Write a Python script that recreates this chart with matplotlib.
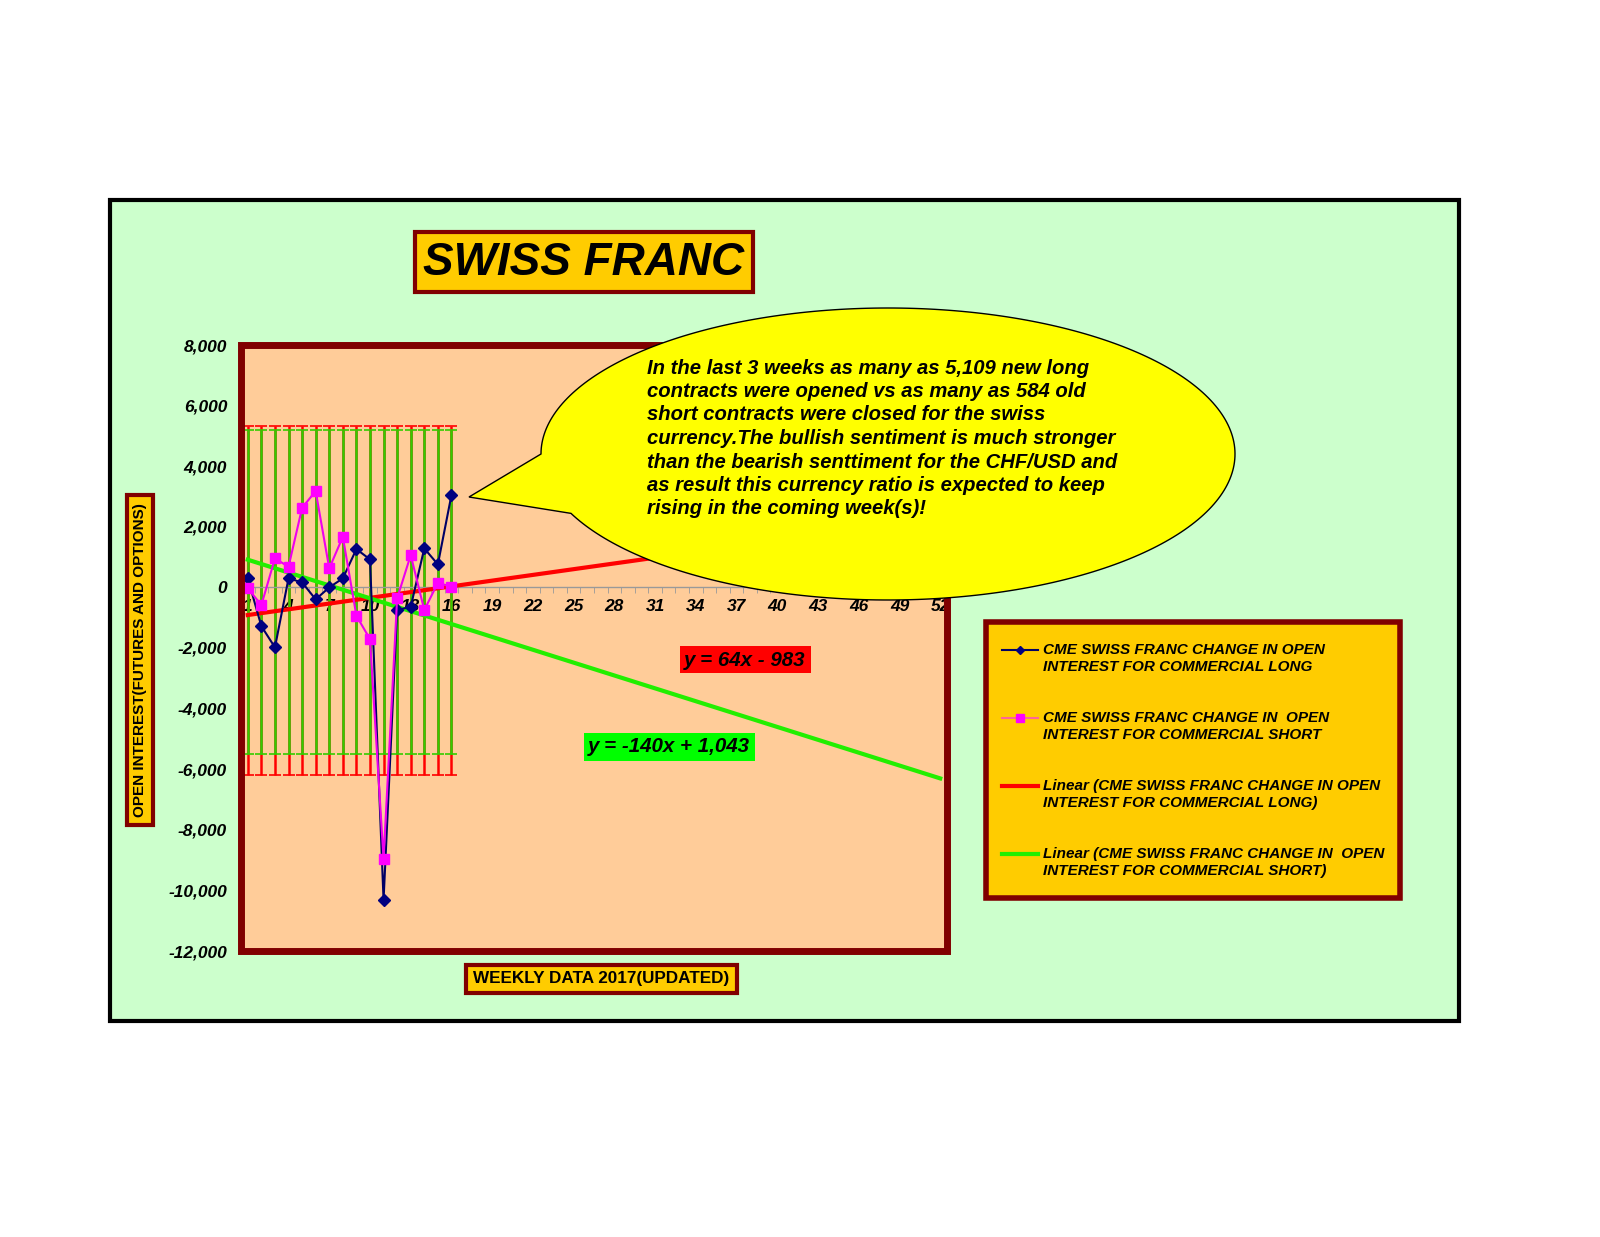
import matplotlib.pyplot as plt
import numpy as np
from matplotlib.patches import Rectangle, PathPatch
from matplotlib.path import Path

plt.rcParams['font.family'] = ['Liberation Sans', 'DejaVu Sans']

# --- data (weekly change in open interest, 2017) ---
weeks = np.arange(1, 17)
long_change = [300, -1280, -1980, 300, 165, -396, 0, 297, 1264, 924,
               -10320, -750, -640, 1287, 759, 3046]
short_change = [-30, -584, 957, 680, 2627, 3178, 627, 1670, -937, -1706,
                -8967, -363, 1066, -749, 152, 20]
all_weeks = np.arange(1, 53)
x_tick_labels = [str(w) for w in range(1, 53, 3)]
y_ticks = list(range(-12000, 8001, 2000))

long_eq = 'y = 64x - 983'
short_eq = 'y = -140x + 1,043'
legend_lines = [
    ('CME SWISS FRANC CHANGE IN OPEN', 'INTEREST FOR COMMERCIAL LONG'),
    ('CME SWISS FRANC CHANGE IN  OPEN', 'INTEREST FOR COMMERCIAL SHORT'),
    ('Linear (CME SWISS FRANC CHANGE IN OPEN', 'INTEREST FOR COMMERCIAL LONG)'),
    ('Linear (CME SWISS FRANC CHANGE IN  OPEN', 'INTEREST FOR COMMERCIAL SHORT)'),
]
bubble_lines = [
    'In the last 3 weeks as many as 5,109 new long',
    'contracts were opened vs as many as 584 old',
    'short contracts were closed for the swiss',
    'currency.The bullish sentiment is much stronger',
    'than the bearish senttiment for the CHF/USD and',
    'as result this currency ratio is expected to keep',
    'rising in the coming week(s)!',
]

W, H = 1600, 1237
fig = plt.figure(figsize=(W / 100, H / 100), dpi=100)
fig.patch.set_facecolor('white')


def pixel_axes(z):
    a = fig.add_axes([0, 0, 1, 1], zorder=z)
    a.set_xlim(0, W)
    a.set_ylim(H, 0)
    a.axis('off')
    a.patch.set_visible(False)
    return a


# background panel
bg = pixel_axes(0)
bg.add_patch(Rectangle((110, 200), 1349, 821, fc='#CCFFCC', ec='black', lw=3))

# --- main chart ---
ax = fig.add_axes([241 / W, 1 - 951 / H, 706 / W, 606 / H], zorder=1)
ax.set_facecolor('#FFCC99')
ax.set_xlim(0.5, 52.5)
ax.set_ylim(-12000, 8000)

for s in ['left', 'right', 'top']:
    ax.spines[s].set_visible(False)
ax.spines['bottom'].set_position(('data', 0))
ax.spines['bottom'].set_color('#999999')
ax.spines['bottom'].set_linewidth(1)

ax.set_xticks(np.arange(1, 53, 3))
ax.set_xticklabels(x_tick_labels, fontsize=12.5, fontweight='bold', fontstyle='italic')
ax.set_xticks(np.arange(0.5, 53, 1), minor=True)
ax.tick_params(axis='x', which='major', length=0, pad=8)
ax.tick_params(axis='x', which='minor', length=4, color='#999999', direction='out')

ax.set_yticks(y_ticks)
ax.set_yticklabels([f'{v:,}' for v in y_ticks], fontsize=12.5,
                   fontweight='bold', fontstyle='italic')
ax.tick_params(axis='y', length=0, pad=10)

# error bars: series mean +/- 2 standard deviations (Excel style)
for vals, col in [(long_change, '#FF0000'), (short_change, '#33CC00')]:
    v = np.array(vals, dtype=float)
    ax.errorbar(weeks, np.full(len(v), v.mean()), yerr=2 * v.std(ddof=1),
                fmt='none', ecolor=col, elinewidth=1.8, capsize=4,
                capthick=1.2, zorder=2)

# linear trend lines over the whole year
for vals, col in [(long_change, '#FF0000'), (short_change, '#22EE00')]:
    k, b = np.polyfit(weeks, vals, 1)
    ax.plot(all_weeks, k * all_weeks + b, color=col, lw=3, zorder=3)

ax.plot(weeks, long_change, color='#000066', lw=1.5, marker='D', ms=6,
        mfc='#000080', mec='#000080', zorder=4)
ax.plot(weeks, short_change, color='#EE00EE', lw=1.5, marker='s', ms=7.5,
        mfc='#FF00FF', mec='#FF00FF', zorder=4)

# dark red frame around plot area
ax.add_patch(Rectangle((0, 0), 1, 1, transform=ax.transAxes, fill=False,
                       ec='#800000', lw=5, clip_on=False, zorder=6))

# --- overlay: boxes, bubble, legend ---
ov = pixel_axes(2)

# title
ov.add_patch(Rectangle((415, 232), 338, 60, fc='#FFCC00', ec='#800000', lw=3))
ov.text(584, 263, 'SWISS FRANC', fontsize=33, fontweight='bold',
        fontstyle='italic', ha='center', va='center')

# axis title boxes
ov.add_patch(Rectangle((127, 495), 26, 330, fc='#FFCC00', ec='#800000', lw=3))
ov.text(140, 660, 'OPEN INTEREST(FUTURES AND OPTIONS)', fontsize=11,
        fontweight='bold', rotation=90, ha='center', va='center')
ov.add_patch(Rectangle((466, 965), 271, 28, fc='#FFCC00', ec='#800000', lw=3))
ov.text(601, 979, 'WEEKLY DATA 2017(UPDATED)', fontsize=12.3,
        fontweight='bold', ha='center', va='center')

# trend equations
ov.add_patch(Rectangle((680, 646), 131, 27, fc='#FF0000', ec='none'))
ov.text(745, 660, long_eq, fontsize=14.8, fontweight='bold', fontstyle='italic',
        ha='center', va='center')
ov.add_patch(Rectangle((584, 733), 171, 28, fc='#00FF00', ec='none'))
ov.text(669, 747, short_eq, fontsize=14.8, fontweight='bold', fontstyle='italic',
        ha='center', va='center')

# speech bubble
cx, cy, ea, eb = 888, 454, 347, 146
th = np.radians(np.linspace(180, 516, 300))
pts = np.column_stack([cx + ea * np.cos(th), cy + eb * np.sin(th)])
pts = np.vstack([pts, [[469, 497]], pts[:1]])
codes = [Path.MOVETO] + [Path.LINETO] * (len(pts) - 2) + [Path.CLOSEPOLY]
ov.add_patch(PathPatch(Path(pts, codes), fc='#FFFF00', ec='black', lw=1))
for i, line in enumerate(bubble_lines):
    ov.text(647, 368 + i * 23.5, line, fontsize=14.6, fontweight='bold',
            fontstyle='italic', ha='left', va='center')

# legend
ov.add_patch(Rectangle((986, 622), 414, 276, fc='#FFCC00', ec='#800000', lw=4))
handles = [
    dict(color='#000066', lw=1.5, marker='D', ms=4, mfc='#000080', mec='#000080'),
    dict(color='#FF6699', lw=1.5, marker='s', ms=6, mfc='#FF00FF', mec='#FF00FF'),
    dict(color='#FF0000', lw=3),
    dict(color='#22EE00', lw=3),
]
for i, ((l1, l2), hs) in enumerate(zip(legend_lines, handles)):
    y0 = 650 + i * 68
    ov.plot([1002, 1038], [y0, y0], **hs, markevery=[])
    if 'marker' in hs:
        ov.plot([1020], [y0], marker=hs['marker'], ms=hs['ms'],
                mfc=hs['mfc'], mec=hs['mec'], ls='none')
    ov.text(1043, y0, l1, fontsize=11, fontweight='bold', fontstyle='italic',
            va='center', ha='left')
    ov.text(1043, y0 + 17, l2, fontsize=11, fontweight='bold', fontstyle='italic',
            va='center', ha='left')

fig.savefig('out.png', dpi=100)
